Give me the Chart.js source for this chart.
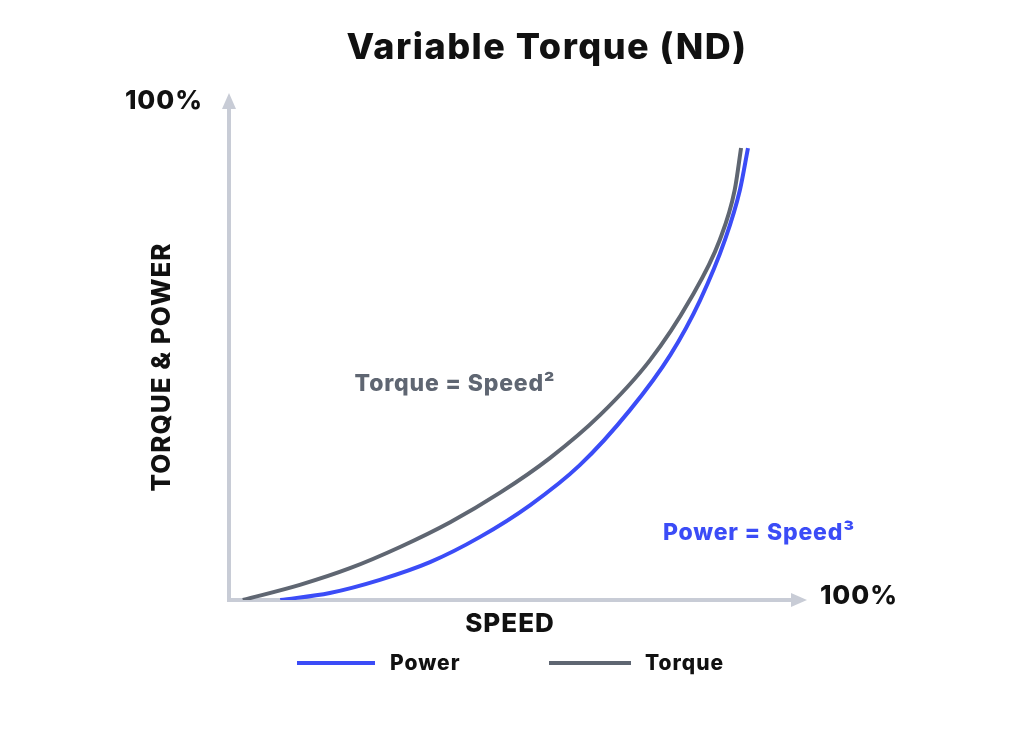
<!DOCTYPE html>
<html>
<head>
<meta charset="utf-8">
<script src="https://cdn.jsdelivr.net/npm/chart.js@4"></script>
<style>
  html, body { margin: 0; padding: 0; background: #fff; }
  #wrap { width: 1024px; height: 737px; }
</style>
</head>
<body>
<div id="wrap"><canvas id="chart"></canvas></div>
<script>
// values, percent of speed / percent of torque & power
const torqueX = [2.4, 12.3, 21.0, 29.7, 38.4, 47.0, 55.7, 64.4, 73.1, 80.0, 85.2, 87.8, 88.9];
const torqueY = [0, 3.0, 6.3, 10.5, 15.4, 21.2, 28.1, 36.6, 47.5, 59.4, 71.3, 81.2, 89.5];
const powerX = [8.9, 17.5, 26.2, 34.9, 43.6, 52.3, 60.9, 69.6, 76.6, 81.8, 86.1, 88.7, 90.1];
const powerY = [0, 1.4, 4.0, 7.5, 12.5, 18.8, 26.7, 37.6, 48.5, 59.4, 71.3, 81.2, 89.5];
const axisTicks = ["100%", "100%"];

const BLUE = "#3b4cf7";
const GRAY = "#5f6672";
const AXIS = "#c8ccd6";
const FONT = "Inter, 'Open Sans', sans-serif";

const pts = (xs, ys) => xs.map((x, i) => ({ x, y: ys[i] }));

const decor = {
  id: "decor",
  beforeDatasetsDraw(chart) {
    const { ctx, chartArea: a } = chart;
    ctx.save();
    ctx.strokeStyle = AXIS;
    ctx.fillStyle = AXIS;
    ctx.lineWidth = 4;
    ctx.beginPath();
    ctx.moveTo(a.left, a.top + 8);
    ctx.lineTo(a.left, a.bottom);
    ctx.lineTo(a.right - 8, a.bottom);
    ctx.stroke();
    ctx.beginPath();
    ctx.moveTo(a.left, a.top - 2);
    ctx.lineTo(a.left - 7, a.top + 14);
    ctx.lineTo(a.left + 7, a.top + 14);
    ctx.fill();
    ctx.beginPath();
    ctx.moveTo(a.right + 2, a.bottom);
    ctx.lineTo(a.right - 14, a.bottom - 7);
    ctx.lineTo(a.right - 14, a.bottom + 7);
    ctx.fill();
    ctx.restore();
  },
  afterDraw(chart) {
    const { ctx } = chart;
    ctx.save();
    ctx.textAlign = "center";
    ctx.textBaseline = "middle";
    ctx.fillStyle = "#111";
    ctx.letterSpacing = "1.5px";
    ctx.font = `800 36px ${FONT}`;
    ctx.fillText("Variable Torque (ND)", 547, 48);
    ctx.letterSpacing = "1px";
    ctx.font = `800 26px ${FONT}`;
    ctx.fillText(axisTicks[0], 164, 101);
    ctx.fillText(axisTicks[1], 859, 596);
    ctx.fillText("SPEED", 510, 624);
    ctx.save();
    ctx.translate(162, 367);
    ctx.rotate(-Math.PI / 2);
    ctx.fillText("TORQUE & POWER", 0, 0);
    ctx.restore();
    ctx.letterSpacing = "0.8px";
    ctx.font = `800 23px ${FONT}`;
    ctx.fillStyle = GRAY;
    ctx.fillText("Torque = Speed²", 455, 384);
    ctx.fillStyle = BLUE;
    ctx.fillText("Power = Speed³", 759, 533);
    // legend
    ctx.lineWidth = 4;
    ctx.strokeStyle = BLUE;
    ctx.beginPath(); ctx.moveTo(297, 663); ctx.lineTo(375, 663); ctx.stroke();
    ctx.strokeStyle = GRAY;
    ctx.beginPath(); ctx.moveTo(549, 663); ctx.lineTo(631, 663); ctx.stroke();
    ctx.fillStyle = "#111";
    ctx.textAlign = "left";
    ctx.letterSpacing = "1px";
    ctx.font = `800 21px ${FONT}`;
    ctx.fillText("Power", 390, 664);
    ctx.fillText("Torque", 645, 664);
    ctx.restore();
  }
};

new Chart(document.getElementById("chart"), {
  type: "scatter",
  data: {
    datasets: [
      { label: "Power", data: pts(powerX, powerY), showLine: true, borderColor: BLUE, borderWidth: 4, pointRadius: 0, cubicInterpolationMode: "monotone" },
      { label: "Torque", data: pts(torqueX, torqueY), showLine: true, borderColor: GRAY, borderWidth: 4, pointRadius: 0, cubicInterpolationMode: "monotone" }
    ]
  },
  options: {
    responsive: true,
    maintainAspectRatio: false,
    animation: false,
    layout: { padding: { left: 229, right: 219, top: 95, bottom: 137 } },
    scales: {
      x: { type: "linear", min: 0, max: 100, display: false },
      y: { min: 0, max: 100, display: false }
    },
    plugins: { legend: { display: false }, title: { display: false }, tooltip: { enabled: false } }
  },
  plugins: [decor]
});
</script>
</body>
</html>
